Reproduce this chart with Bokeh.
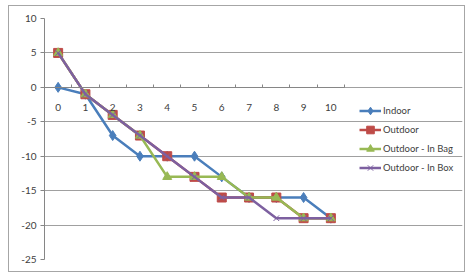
from bokeh.plotting import figure
from bokeh.models import Range1d, FixedTicker, Legend, LegendItem, PrintfTickFormatter
from bokeh.embed import file_html
from bokeh.resources import INLINE

x_vals = [0, 1, 2, 3, 4, 5, 6, 7, 8, 9, 10]
indoor = [0, -1, -7, -10, -10, -10, -13, -16, -16, -16, -19]
outdoor = [5, -1, -4, -7, -10, -13, -16, -16, -16, -19, -19]
outdoor_bag = [5, -1, -4, -7, -13, -13, -13, -16, -16, -19, -19]
outdoor_box = [5, -1, -4, -7, -10, -13, -16, -16, -19, -19, -19]
y_ticks = [10, 5, 0, -5, -10, -15, -20, -25]
half_ticks = [i - 0.5 for i in range(12)]

FONT = "Lato"
X_END = -0.5 + 418 * 11 / 300.0  # frame extends under the legend area
p = figure(width=455, height=265, output_backend="svg", toolbar_location=None,
           x_range=Range1d(-0.5, X_END), y_range=Range1d(-25, 10),
           min_border_left=35, min_border_right=2, min_border_top=12, min_border_bottom=12,
           margin=(6, 0, 0, 9), styles={"outline": "1px solid #a6a6a6"})
p.outline_line_color = None
p.background_fill_color = "white"
p.border_fill_color = "white"

# y axis
p.yaxis.ticker = FixedTicker(ticks=y_ticks)
p.yaxis.formatter = PrintfTickFormatter(format="%d")
p.yaxis.axis_line_color = "#868686"
p.yaxis.major_tick_line_color = "#868686"
p.yaxis.major_tick_out = 4
p.yaxis.major_tick_in = 0
p.yaxis.minor_tick_line_color = None
p.yaxis.major_label_text_font = FONT
p.yaxis.major_label_text_font_size = "10px"
p.yaxis.major_label_text_color = "#404040"
p.yaxis.major_label_standoff = 4

# x axis crossing at y=0, tick marks between categories as minor ticks
p.xaxis.fixed_location = 0
p.xaxis.bounds = (-0.5, 10.5)
p.xaxis.ticker = FixedTicker(ticks=x_vals, minor_ticks=half_ticks)
p.xaxis.axis_line_color = "#868686"
p.xaxis.major_tick_line_color = None
p.xaxis.minor_tick_line_color = "#868686"
p.xaxis.minor_tick_in = 3
p.xaxis.minor_tick_out = 0
p.xaxis.major_label_text_font = FONT
p.xaxis.major_label_text_font_size = "10px"
p.xaxis.major_label_text_color = "#404040"
p.xaxis.major_label_standoff = 11

p.xgrid.visible = False
p.ygrid.ticker = FixedTicker(ticks=y_ticks)
p.ygrid.bounds = (-0.5, 10.5)
p.ygrid.grid_line_color = "#a0a0a0"
p.ygrid.grid_line_width = 1

series = [
    ("Indoor", indoor, "#4A7EBB", "diamond", 10),
    ("Outdoor", outdoor, "#BE4B48", "square", 9),
    ("Outdoor - In Bag", outdoor_bag, "#98B954", "triangle", 9),
    ("Outdoor - In Box", outdoor_box, "#7D60A0", "x", 8),
]
items = []
for name, ys, col, mk, sz in series:
    r1 = p.line(x_vals, ys, line_color=col, line_width=2.5)
    r2 = p.scatter(x_vals, ys, marker=mk, size=sz, fill_color=col, line_color=col, line_width=1)
    items.append(LegendItem(label=name, renderers=[r1, r2]))

legend = Legend(items=items, location=(315, 82))
legend.border_line_color = None
legend.background_fill_alpha = 0
legend.label_text_font = FONT
legend.label_text_font_size = "9.5px"
legend.label_text_color = "#404040"
legend.glyph_width = 22
legend.glyph_height = 19
legend.label_height = 19
legend.spacing = 0
legend.label_standoff = 2
legend.padding = 0
legend.margin = 0
p.add_layout(legend, "center")

open("out.html", "w").write(file_html(p, INLINE))
